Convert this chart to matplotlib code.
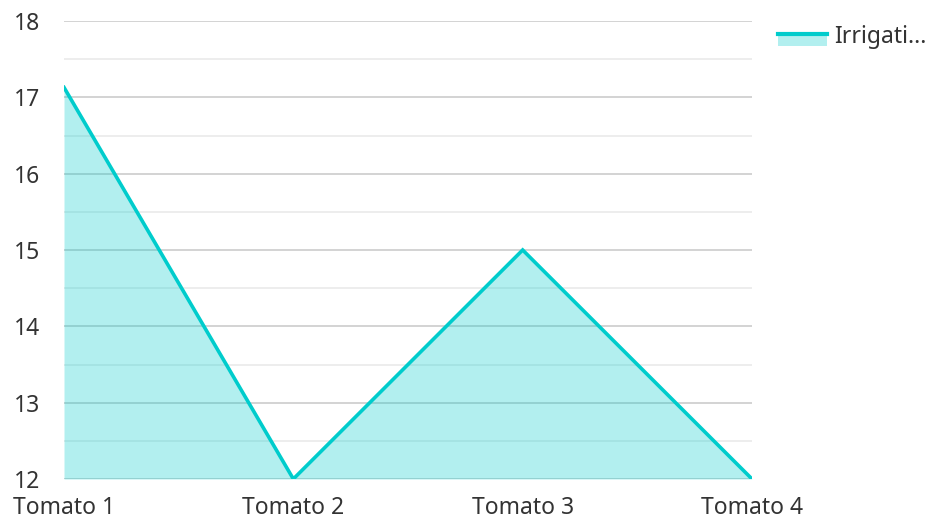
import matplotlib
matplotlib.use("Agg")
import matplotlib.pyplot as plt
from matplotlib.legend_handler import HandlerBase
from matplotlib.patches import Rectangle
from matplotlib.lines import Line2D

# data
categories = ["Tomato 1", "Tomato 2", "Tomato 3", "Tomato 4"]
irrigation = [17.13, 12, 15, 12]
series_name = "Irrigati..."

LINE_COL = "#00CCCC"
FILL_ALPHA = 0.3

plt.rcParams["font.family"] = ["Noto Sans", "DejaVu Sans"]


class AreaHandler(HandlerBase):
    # legend key: light box with a thick line along its top
    def create_artists(self, legend, orig_handle, xdescent, ydescent,
                       width, height, fontsize, trans):
        rect = Rectangle((-xdescent, -ydescent - height * 0.2), width, height * 0.8,
                         facecolor=LINE_COL, alpha=FILL_ALPHA, edgecolor="none",
                         transform=trans)
        top = -ydescent + height * 0.6
        line = Line2D([-xdescent, -xdescent + width], [top, top],
                      color=LINE_COL, linewidth=3, transform=trans)
        return [rect, line]


fig = plt.figure(figsize=(9.34, 5.20), dpi=100)
ax = fig.add_axes([64 / 934, 1 - 479 / 520, (752 - 64) / 934, (479 - 21) / 520])

x = list(range(len(categories)))
ax.fill_between(x, 12, irrigation, color=LINE_COL, alpha=FILL_ALPHA,
                linewidth=0, zorder=2)
ax.plot(x, irrigation, color=LINE_COL, linewidth=2.6, zorder=3,
        solid_joinstyle="miter")

ax.set_xlim(0, len(categories) - 1)
ax.set_ylim(12, 18)
ax.set_yticks(range(12, 19))
ax.set_yticks([12.5 + i for i in range(6)], minor=True)
ax.grid(axis="y", which="major", color="#c8c8c8", linewidth=1.1, zorder=0)
ax.grid(axis="y", which="minor", color="#e8e8e8", linewidth=1.1, zorder=0)
ax.set_axisbelow(True)
for s in ax.spines.values():
    s.set_visible(False)

ax.set_xticks(x)
ax.set_xticklabels(categories)
ax.tick_params(axis="both", which="both", length=0, labelsize=16.5, colors="#333333")
ax.tick_params(axis="y", pad=17)
ax.tick_params(axis="x", pad=12)

handle = Rectangle((0, 0), 1, 1)
fig.legend([handle], [series_name], handler_map={Rectangle: AreaHandler()},
           loc="upper left", bbox_to_anchor=(769 / 934, 1 - 16 / 520),
           frameon=False, fontsize=16.5, handlelength=2.14, handletextpad=0.3,
           labelcolor="#333333", borderaxespad=0)

fig.savefig("out.png", dpi=100)
